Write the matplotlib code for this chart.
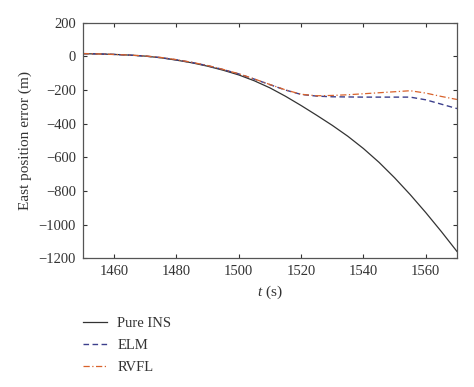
import numpy as np
import matplotlib
matplotlib.use('Agg')
import matplotlib.pyplot as plt

# Datos
t = [1450, 1455, 1460, 1465, 1470, 1475, 1480, 1485, 1490, 1495, 1500,
     1505, 1510, 1515, 1520, 1525, 1530, 1535, 1540, 1545, 1550, 1555,
     1560, 1565, 1570]
pure_ins = [16, 15, 12, 8, 2, -8, -22, -38, -58, -82, -110,
            -145, -187, -237, -292, -350, -410, -475, -548, -630, -722, -822,
            -929, -1042, -1160]
elm = [17, 15, 12, 8, 2, -7, -20, -36, -55, -78, -104,
       -135, -168, -200, -226, -236, -240, -241, -242, -242, -242, -242,
       -258, -284, -310]
rvfl = [17, 15, 12, 8, 3, -6, -19, -35, -54, -77, -103,
        -134, -167, -199, -225, -234, -232, -228, -222, -216, -210, -204,
        -218, -238, -256]

plt.rcParams['font.family'] = ['Liberation Serif', 'DejaVu Serif']
plt.rcParams['font.size'] = 10.5
plt.rcParams['mathtext.fontset'] = 'custom'
plt.rcParams['mathtext.it'] = 'Liberation Serif:italic'
plt.rcParams['mathtext.rm'] = 'Liberation Serif'

fig = plt.figure(figsize=(4.74, 3.87), dpi=100)
ax = fig.add_axes([0.175, 0.333, 0.789, 0.608])

ax.plot(t, pure_ins, color='#333333', lw=0.9, label='Pure INS')
ax.plot(t, elm, color='#3c3f8c', lw=1.0, ls=(0, (4, 2.5)), label='ELM')
ax.plot(t, rvfl, color='#d9622b', lw=0.9, ls=(0, (5, 2, 1, 2)), label='RVFL')

ax.set_xlim(1450, 1570)
ax.set_ylim(-1200, 200)
ax.set_xticks([1460, 1480, 1500, 1520, 1540, 1560])
ax.set_yticks(np.arange(-1200, 201, 200))
ax.tick_params(direction='in', top=True, right=True, length=3, width=0.8,
               colors='#333333', labelsize=10.5, pad=5)
for s in ax.spines.values():
    s.set_color('#555555')
    s.set_linewidth(0.9)

ax.set_xlabel('$t$ (s)', labelpad=4, color='#333333', fontsize=11)
ax.set_ylabel('East position error (m)', color='#333333', fontsize=11, labelpad=5)

ax.legend(loc='upper left', bbox_to_anchor=(0.0, -0.248), frameon=False,
          borderaxespad=0, borderpad=0, handlelength=1.65, handletextpad=0.7,
          labelspacing=0.6, labelcolor='#333333', fontsize=10.5)

fig.savefig('out.png', dpi=100)
